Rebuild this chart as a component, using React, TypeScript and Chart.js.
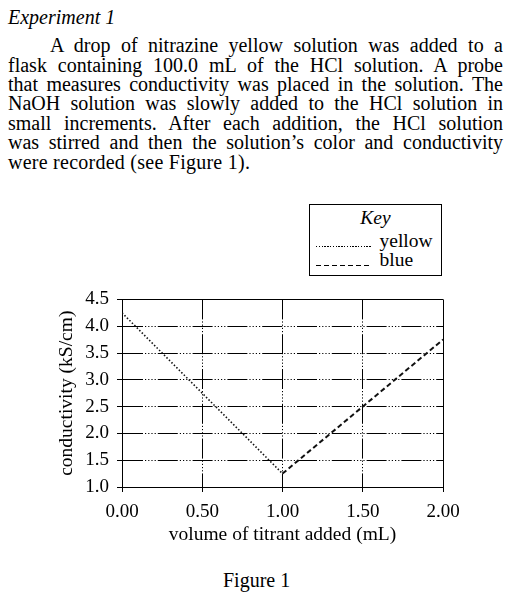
import React, { useEffect, useRef } from 'react';
import { Chart, registerables } from 'chart.js';

Chart.register(...registerables);

// ---- data ----
const xTickValues = [0, 0.5, 1.0, 1.5, 2.0];
const yTickValues = [1.0, 1.5, 2.0, 2.5, 3.0, 3.5, 4.0, 4.5];
const yellowVolume = [0.0, 1.0];
const yellowConductivity = [4.25, 1.25];
const blueVolume = [1.0, 2.0];
const blueConductivity = [1.25, 3.75];

const paragraphLines = [
  'A drop of nitrazine yellow solution was added to a',
  'flask containing 100.0 mL of the HCl solution. A probe',
  'that measures conductivity was placed in the solution. The',
  'NaOH solution was slowly added to the HCl solution in',
  'small increments. After each addition, the HCl solution',
  'was stirred and then the solution\u2019s color and conductivity',
  'were recorded (see Figure 1).',
];

const SERIF = '"Liberation Serif", "Times New Roman", serif';
const GRID_DASH = [20, 2, 1.2, 2, 1.2, 2, 1.2, 2, 1.2, 2];

function toPoints(xs: number[], ys: number[]) {
  return xs.map((x, i) => ({ x, y: ys[i] }));
}

function ChartCanvas() {
  const ref = useRef<HTMLCanvasElement | null>(null);
  useEffect(() => {
    if (!ref.current) return;
    const xMin = xTickValues[0];
    const xMax = xTickValues[xTickValues.length - 1];
    const yMin = yTickValues[0];
    const yMax = yTickValues[yTickValues.length - 1];
    const chart = new Chart(ref.current, {
      type: 'line',
      data: {
        datasets: [
          {
            label: 'yellow',
            data: toPoints(yellowVolume, yellowConductivity),
            borderColor: '#111',
            borderWidth: 1.6,
            borderDash: [1.5, 2],
            pointRadius: 0,
            tension: 0,
            fill: false,
          },
          {
            label: 'blue',
            data: toPoints(blueVolume, blueConductivity),
            borderColor: '#111',
            borderWidth: 2,
            borderDash: [5, 3],
            pointRadius: 0,
            tension: 0,
            fill: false,
          },
        ],
      },
      options: {
        animation: false,
        responsive: false,
        layout: { padding: { left: 0, right: 83, top: 15, bottom: 0 } },
        plugins: {
          legend: { display: false },
          tooltip: { enabled: false },
        },
        scales: {
          x: {
            type: 'linear',
            min: xMin,
            max: xMax,
            afterFit: (s: any) => {
              s.height = 73;
            },
            afterBuildTicks: (s: any) => {
              s.ticks = xTickValues.map((v) => ({ value: v }));
            },
            ticks: {
              color: '#000',
              font: { family: SERIF, size: 19 },
              padding: 9,
              maxRotation: 0,
              autoSkip: false,
              callback: (v: any) => Number(v).toFixed(2),
            },
            grid: {
              color: '#000',
              lineWidth: 1,
              tickLength: 5,
              tickColor: '#000',
            },
            border: {
              display: true,
              color: '#000',
              width: 1,
              dash: (c: any) =>
                c.tick && (c.tick.value === xMin || c.tick.value === xMax) ? [] : GRID_DASH,
            },
            title: {
              display: true,
              text: 'volume of titrant added (mL)',
              color: '#000',
              font: { family: SERIF, size: 19.5 },
              padding: { top: 0, bottom: 13 },
            },
          },
          y: {
            type: 'linear',
            min: yMin,
            max: yMax,
            afterFit: (s: any) => {
              s.width = 122;
            },
            afterBuildTicks: (s: any) => {
              s.ticks = yTickValues.map((v) => ({ value: v }));
            },
            ticks: {
              color: '#000',
              font: { family: SERIF, size: 19 },
              padding: 8,
              autoSkip: false,
              callback: (v: any) => Number(v).toFixed(1),
            },
            grid: {
              color: '#000',
              lineWidth: 1,
              tickLength: 5,
              tickColor: '#000',
            },
            border: {
              display: true,
              color: '#000',
              width: 1,
              dash: (c: any) =>
                c.tick && (c.tick.value === yMin || c.tick.value === yMax) ? [] : GRID_DASH,
            },
            title: {
              display: true,
              text: 'conductivity (kS/cm)',
              color: '#000',
              font: { family: SERIF, size: 19.5 },
              padding: { top: 55, bottom: 0 },
            },
          },
        },
      },
    } as any);
    return () => chart.destroy();
  }, []);
  return (
    <canvas
      ref={ref}
      width={526}
      height={280}
      style={{ position: 'absolute', left: 0, top: 280, width: 526, height: 280 }}
    />
  );
}

export default function App() {
  const lineStyle: React.CSSProperties = {
    height: 19.43,
    lineHeight: '19.43px',
    whiteSpace: 'nowrap',
    textAlign: 'justify',
    textAlignLast: 'justify' as any,
  };
  return (
    <div
      style={{
        position: 'absolute',
        left: 0,
        top: 0,
        width: 526,
        height: 600,
        background: '#fff',
        color: '#000',
        fontFamily: SERIF,
        overflow: 'hidden',
      }}
    >
      <div
        style={{
          position: 'absolute',
          left: 8,
          top: 7.5,
          fontSize: 20,
          lineHeight: '19.43px',
          fontStyle: 'italic',
          whiteSpace: 'nowrap',
        }}
      >
        Experiment 1
      </div>
      <div style={{ position: 'absolute', left: 8, top: 36.2, width: 495, fontSize: 20 }}>
        {paragraphLines.map((t, i) => {
          const last = i === paragraphLines.length - 1;
          return (
            <div
              key={i}
              style={{
                ...lineStyle,
                paddingLeft: i === 0 ? 42 : 0,
                textAlign: last ? 'left' : 'justify',
                textAlignLast: (last ? 'left' : 'justify') as any,
                letterSpacing: last ? 0.25 : 0,
              }}
            >
              {t}
            </div>
          );
        })}
      </div>

      {/* Key */}
      <div
        style={{
          position: 'absolute',
          left: 309,
          top: 204,
          width: 133,
          height: 72,
          boxSizing: 'border-box',
          border: '1.5px solid #000',
          fontSize: 19.5,
        }}
      >
        <div
          style={{
            position: 'absolute',
            left: 0,
            right: 0,
            top: 3,
            lineHeight: '20px',
            textAlign: 'center',
            fontStyle: 'italic',
          }}
        >
          Key
        </div>
        <div
          style={{
            position: 'absolute',
            left: 6.2,
            top: 40.5,
            width: 55,
            height: 1.4,
            background:
              'repeating-linear-gradient(to right, #000 0px, #000 1.4px, transparent 1.4px, transparent 2.8px)',
          }}
        />
        <div style={{ position: 'absolute', left: 69.5, top: 26, lineHeight: '20px' }}>yellow</div>
        <div
          style={{
            position: 'absolute',
            left: 6.2,
            top: 59.5,
            width: 55,
            height: 1.5,
            background:
              'repeating-linear-gradient(to right, #000 0px, #000 5px, transparent 5px, transparent 8px)',
          }}
        />
        <div style={{ position: 'absolute', left: 69.5, top: 44.6, lineHeight: '20px' }}>blue</div>
      </div>

      <ChartCanvas />

      <div
        style={{
          position: 'absolute',
          left: 223,
          top: 570,
          fontSize: 20,
          lineHeight: '20px',
          whiteSpace: 'nowrap',
        }}
      >
        Figure 1
      </div>
    </div>
  );
}
